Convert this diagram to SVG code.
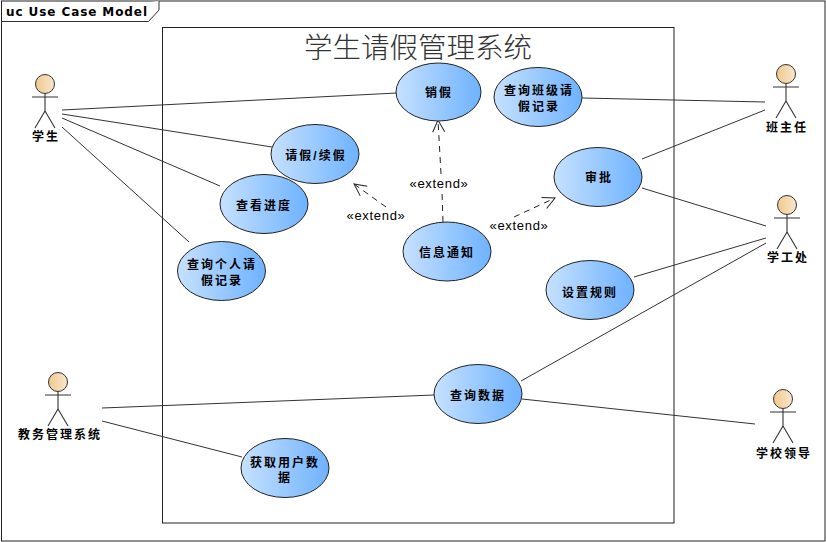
<svg xmlns="http://www.w3.org/2000/svg" width="826" height="542" viewBox="0 0 826 542">
<defs>
<linearGradient id="uc" x1="0" y1="0" x2="1" y2="0"><stop offset="0" stop-color="#c6e1ff"/><stop offset="1" stop-color="#6eb2ff"/></linearGradient>
<linearGradient id="head" x1="0" y1="0" x2="1" y2="0"><stop offset="0" stop-color="#f0c98e"/><stop offset="1" stop-color="#f8e6cc"/></linearGradient>
<marker id="open" markerUnits="userSpaceOnUse" markerWidth="16" markerHeight="16" refX="13" refY="7" orient="auto"><path d="M1 1 L13 7 L1 13" fill="none" stroke="#222" stroke-width="1"/></marker>
<g id="actor">
<circle cx="0" cy="0" r="9.5" fill="url(#head)" stroke="#333" stroke-width="1"/>
<path d="M0 9.500 V27 M-13 13 H13 M0 27 L-10 44 M0 27 L10 44" fill="none" stroke="#333" stroke-width="1.100"/>
</g>
</defs>
<style>
text{font-family:"Liberation Sans","Noto Sans CJK SC",sans-serif;fill:#000}
.t{font-size:12px;font-weight:700;text-anchor:middle;letter-spacing:2px}
.e{font-size:13px;text-anchor:middle;letter-spacing:.7px;font-weight:400}
.u{fill:url(#uc);stroke:#222;stroke-width:1}
.c{fill:none;stroke:#333;stroke-width:1}
.d0{fill:none;stroke:#222;stroke-width:1;stroke-dasharray:6 5}
.d{fill:none;stroke:#222;stroke-width:1;stroke-dasharray:6 5;marker-end:url(#open)}
</style>
<rect width="826" height="542" fill="#fff"/>
<g id="frame">
<rect x="1.500" y="1" width="823.500" height="540" fill="#fff" stroke="#222"/>
<path d="M1.500 21.500 H148.500 L159 10 V1" fill="#fff" stroke="#333"/>
<text x="6" y="16" style="font-family:'DejaVu Sans',sans-serif;font-size:12px;font-weight:700" textLength="141" lengthAdjust="spacing">uc Use Case Model</text>
</g>
<g id="system">
<rect x="162.500" y="27.500" width="511.500" height="495.500" fill="#fff" stroke="#222"/>
<text x="418" y="58" text-anchor="middle" style="font-family:'Noto Sans CJK SC',sans-serif;font-size:28.500px;font-weight:300;fill:#333">学生请假管理系统</text>
</g>
<g id="connectors">
<path class="c" d="M62 110 L397 93"/>
<path class="c" d="M62 114 L272 147"/>
<path class="c" d="M62 118 L220 186"/>
<path class="c" d="M62 127 L189 242"/>
<path class="c" d="M582 98 L765 102"/>
<path class="c" d="M642 159 L765 110"/>
<path class="c" d="M642 188 L766 226"/>
<path class="c" d="M634 277 L766 238"/>
<path class="c" d="M521 381 L766 243"/>
<path class="c" d="M102 408 L434 395"/>
<path class="c" d="M102 421 L242 457"/>
<path class="c" d="M522 399 L755 424"/>
<path class="d0" d="M443 222 L442 192"/>
<path class="d" d="M441 174 L438 120"/>
<path class="d" d="M386 207 L354 184"/>
<path class="d" d="M514 217 L555 198"/>
</g>
<g id="labels">
<text class="e" x="439" y="188">«extend»</text>
<text class="e" x="376" y="220">«extend»</text>
<text class="e" x="519" y="230">«extend»</text>
</g>
<g id="uc-xiaojia"><ellipse class="u" cx="438.500" cy="92" rx="42.500" ry="29"/><text class="t" x="439" y="97">销假</text></g>
<g id="uc-banji"><ellipse class="u" cx="538" cy="97" rx="44" ry="29.500"/><text class="t" x="539" y="95">查询班级请</text><text class="t" x="539" y="111">假记录</text></g>
<g id="uc-shenpi"><ellipse class="u" cx="598" cy="177" rx="44" ry="29.500"/><text class="t" x="599" y="182">审批</text></g>
<g id="uc-qingjia"><ellipse class="u" cx="315" cy="154" rx="44" ry="29.500"/><text class="t" x="316" y="160">请假/续假</text></g>
<g id="uc-jindu"><ellipse class="u" cx="264" cy="204" rx="44" ry="29.500"/><text class="t" x="264" y="210">查看进度</text></g>
<g id="uc-geren"><ellipse class="u" cx="221.500" cy="271" rx="44" ry="29.500"/><text class="t" x="222" y="269">查询个人请</text><text class="t" x="222" y="285">假记录</text></g>
<g id="uc-tongzhi"><ellipse class="u" cx="447" cy="251.500" rx="44" ry="29.500"/><text class="t" x="447" y="257">信息通知</text></g>
<g id="uc-guize"><ellipse class="u" cx="590" cy="290" rx="44" ry="29.500"/><text class="t" x="590" y="297">设置规则</text></g>
<g id="uc-shuju"><ellipse class="u" cx="478" cy="394" rx="44" ry="29.500"/><text class="t" x="478" y="400">查询数据</text></g>
<g id="uc-yonghu"><ellipse class="u" cx="285" cy="468" rx="44" ry="29.500"/><text class="t" x="285" y="467">获取用户数</text><text class="t" x="285" y="482">据</text></g>
<g id="actor-xuesheng"><use href="#actor" x="45" y="84"/><text class="t" x="46" y="141">学生</text></g>
<g id="actor-banzhuren"><use href="#actor" x="786" y="74"/><text class="t" x="787" y="132">班主任</text></g>
<g id="actor-xuegongchu"><use href="#actor" x="787" y="205"/><text class="t" x="788" y="262">学工处</text></g>
<g id="actor-lingdao"><use href="#actor" x="783" y="399"/><text class="t" x="784" y="458">学校领导</text></g>
<g id="actor-jiaowu"><use href="#actor" x="58" y="382"/><text class="t" x="60" y="439">教务管理系统</text></g>
</svg>
